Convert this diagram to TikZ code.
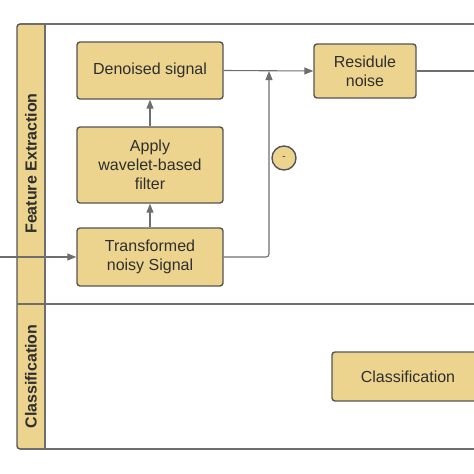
\documentclass[tikz,border=0pt]{standalone}
\usepackage{fontspec}
\setmainfont{Liberation Sans}
\usetikzlibrary{arrows.meta}

\definecolor{lanefill}{HTML}{EDD48E}
\definecolor{boxline}{HTML}{555555}
\definecolor{wire}{HTML}{6E6E6E}
\definecolor{txt}{HTML}{2E2E2E}

\tikzset{
  stepbox/.style={draw=boxline, line width=1.4pt, fill=lanefill, rounded corners=3pt,
    text=txt, align=center, font=\fontsize{16}{19}\selectfont, inner sep=0pt},
  flow/.style={draw=wire, line width=1.1pt, -{Triangle[length=9pt,width=7pt]}},
  plain/.style={draw=wire, line width=1.1pt},
  lanetitle/.style={rotate=90, text=txt, font=\fontsize{16}{19}\selectfont\bfseries}
}

\begin{document}
\begin{tikzpicture}[x=1pt,y=-1pt]
			\useasboundingbox (0,0) rectangle (474,474);
			\clip (0,0) rectangle (474,474);

			% Draw swim lanes
			\draw[boxline, line width=1.4pt, fill=lanefill, rounded corners=3pt] (45,24) -- (17,24) -- (17,449) -- (45,449);
			\draw[wire, line width=1.4pt] (17,24) ++(3,0) -- (480,24) (17,449) ++(3,0) -- (480,449) (17,304) -- (480,304) (45,24) -- (45,449);
			\node[lanetitle] (laneFE) at (31,163.5) {Feature Extraction};
			\node[lanetitle] (laneCL) at (31,376.5) {Classification};

			% Draw the step boxes
			\node[stepbox, minimum width=146pt, minimum height=57pt] (den) at (150,70.5) {Denoised signal};
			\node[stepbox, minimum width=146pt, minimum height=76pt] (apply) at (150,165) {Apply\\wavelet-based\\filter};
			\node[stepbox, minimum width=146pt, minimum height=58pt] (trans) at (150,257) {Transformed\\noisy Signal};
			\node[stepbox, minimum width=102pt, minimum height=54pt] (res) at (365,71) {Residule\\noise};
			\node[stepbox, minimum width=152pt, minimum height=49pt] (cls) at (408,376.5) {Classification};
			\node[stepbox, circle, minimum size=24pt, font=\fontsize{10}{12}\selectfont] (minus) at (284,158) {-};

			% Draw connectors
			\coordinate (in) at (0,257);
			\coordinate (join) at (269,71);
			\coordinate (out) at (480,71);
			\draw[flow] (in) -- (trans.west);
			\draw[flow] (trans.north) -- (apply.south);
			\draw[flow] (apply.north) -- (den.south);
			\draw[flow] (den.east) -- (res.west);
			\draw[flow, rounded corners=3pt] (trans.east) -| (join);
			\draw[plain] (res.east) -- (out);
		\end{tikzpicture}
\end{document}
